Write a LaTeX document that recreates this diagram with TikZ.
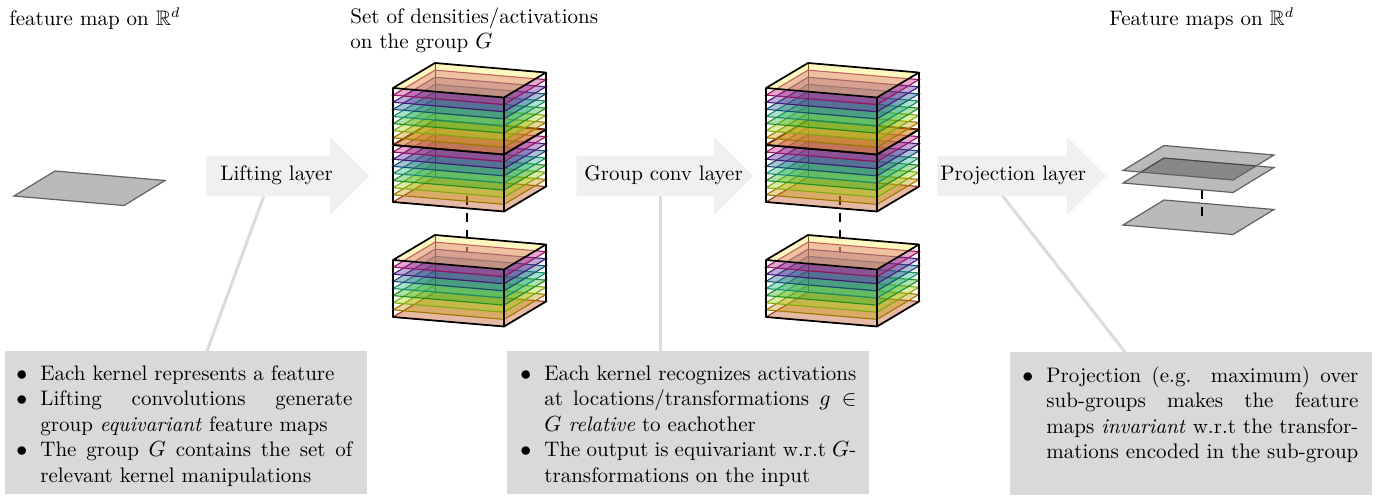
\documentclass[tikz,border=0pt]{standalone}
\usepackage{amsmath,amssymb}
\usepackage{fontspec}
\usetikzlibrary{shapes.arrows}
\definecolor{planered}{RGB}{190,70,20}
\definecolor{planeolive}{RGB}{195,150,0}
\definecolor{planelime}{RGB}{160,210,20}
\definecolor{planegreen}{RGB}{40,175,40}
\definecolor{planeteal}{RGB}{30,175,130}
\definecolor{planeblue}{RGB}{30,95,140}
\definecolor{planepurple}{RGB}{85,30,150}
\definecolor{planemagenta}{RGB}{190,25,120}
\definecolor{planeyellow}{RGB}{255,235,90}
\newcommand{\planepath}{(0,0) -- (111,9.5) -- (153,-15.5) -- (42,-25) -- cycle}
\newcommand{\flatpath}{(0,0) -- (110,9.5) -- (151,-15.5) -- (41,-25) -- cycle}
% one block of coloured planes, corner given in pixels
\newcommand{\layerblock}[2]{
  \begin{scope}[shift={(#1,#2)}]
    \draw[black, line width=0.5pt] (42,-25) -- (42,32);
    \foreach \planecol [count=\i from 0] in {planered,planeolive,planelime,planegreen,planeteal,planeblue,planepurple,planemagenta,planeyellow} {
      \draw[draw=\planecol!80!black, fill=\planecol, fill opacity=0.38, line width=0.55pt, shift={(0,57-7.125*\i)}] \planepath;
    }
    \draw[blockedge] (42,-25) -- (153,-15.5) -- (111,9.5) -- (0,0) -- cycle;
    \draw[blockedge] (0,0) -- (0,57) -- (111,66.5) -- (111,9.5);
    \draw[blockedge] (153,-15.5) -- (153,41.5) -- (111,66.5);
  \end{scope}
}
\newcommand{\notefont}{\fontsize{10.5}{12.75}\selectfont}
% bullet paragraphs inside a grey box: left and right margin, then the items
\newcommand{\noteitem}{\par\noindent\llap{$\bullet$\hspace{6.5pt}}}
\newcommand{\noteblock}[3]{\vbox to 71.25pt{\vskip 7.1pt\leftskip=#1\rightskip=#2\relax #3\par\vfill}}
\begin{document}
\begin{tikzpicture}[x=0.5pt,y=-0.5pt,font=\notefont]
  \tikzset{blockedge/.style={black, line width=0.85pt, line join=round}}
  \tikzset{flatplane/.style={draw=black!62, fill=black, fill opacity=0.27, draw opacity=1, line width=0.6pt}}
  \tikzset{layerarrow/.style={single arrow, fill=black!6, draw=none, text height=7pt, text depth=2pt, inner ysep=5.5pt, inner xsep=0pt, single arrow head extend=9.5pt, single arrow tip angle=90, anchor=west}}
  \tikzset{layertext/.style={anchor=west, inner sep=0pt}}
  \tikzset{titletext/.style={anchor=base west, inner sep=0pt, align=left}}
  \tikzset{lead/.style={black!14, line width=1.5pt}}
  \tikzset{gap/.style={black, line width=1.2pt, dash pattern=on 4.5pt off 4pt}}
  \tikzset{notebox/.style={fill=black!15, anchor=north west, inner sep=0pt, text width=181pt, align=justify}}

  \useasboundingbox (0,0) rectangle (1376,499);

  % titles
  \node[titletext] (inputtitle) at (9,25) {feature map on $\mathbb{R}^d$};
  \node[titletext] (densitytitle) at (350,23) {Set of densities/activations};
  \node[titletext] (grouptitle) at (350,48) {on the group $G$};
  \node[titletext] (outputtitle) at (1109,25) {Feature maps on $\mathbb{R}^d$};

  % notes below
  \node[notebox] (liftnote) at (5,351) {\noteblock{17.5pt}{7.5pt}{
    \noteitem Each kernel represents a feature
    \noteitem Lifting convolutions generate group \emph{equivariant} feature maps
    \noteitem The group $G$ contains the set of relevant kernel manipulations}};
  \node[notebox] (groupnote) at (507,351) {\noteblock{18.5pt}{6.5pt}{
    \noteitem Each kernel recognizes activations at locations/transformations $g \in G$ \emph{relative} to eachother
    \noteitem The output is equivariant w.r.t $G$-transformations on the input}};
  \node[notebox] (projnote) at (1010,352) {\noteblock{18pt}{7pt}{
    \noteitem Projection (e.g. maximum) over sub-groups makes the feature maps \emph{invariant} w.r.t the transformations encoded in the sub-group}};

  % leader lines
  \coordinate (liftfoot) at (266,190);
  \coordinate (groupfoot) at (660,190);
  \coordinate (projfoot) at (998,190);
  \draw[lead] (liftfoot) -- (liftnote.north -| 207,351);
  \draw[lead] (groupfoot) -- (groupnote.north -| 660,351);
  \draw[lead] (projfoot) -- (projnote.north -| 1125,351);

  % arrows
  \node[layerarrow, minimum height=81.5pt] (lift) at (206,176) {};
  \node[layerarrow, minimum height=88.5pt] (groupconv) at (576,176) {};
  \node[layerarrow, minimum height=84.5pt] (proj) at (937,176) {};
  \node[layertext] (lifttext) at (220,175) {Lifting layer};
  \node[layertext] (grouptext) at (584,175) {Group conv layer};
  \node[layertext] (projtext) at (940,175) {Projection layer};

  % input plane
  \draw[flatplane, shift={(14,196)}] \flatpath;

  % dashed gaps
  \coordinate (gapatop) at (467,196);
  \coordinate (gapabot) at (467,252);
  \coordinate (gapbtop) at (840,196);
  \coordinate (gapbbot) at (840,252);
  \coordinate (gapctop) at (1202,190);
  \coordinate (gapcbot) at (1202,217);
  \draw[gap] (gapatop) -- (gapabot);
  \draw[gap] (gapbtop) -- (gapbbot);
  \draw[gap] (gapctop) -- (gapcbot);

  % first stack
  \layerblock{393}{145}
  \layerblock{393}{88}
  \layerblock{393}{260}
  % second stack
  \layerblock{766}{145}
  \layerblock{766}{88}
  \layerblock{766}{260}

  % output planes
  \draw[flatplane, shift={(1123,225)}] \flatpath;
  \draw[flatplane, shift={(1123,183)}] \flatpath;
  \draw[flatplane, shift={(1123,170.5)}] \flatpath;
\end{tikzpicture}
\end{document}
